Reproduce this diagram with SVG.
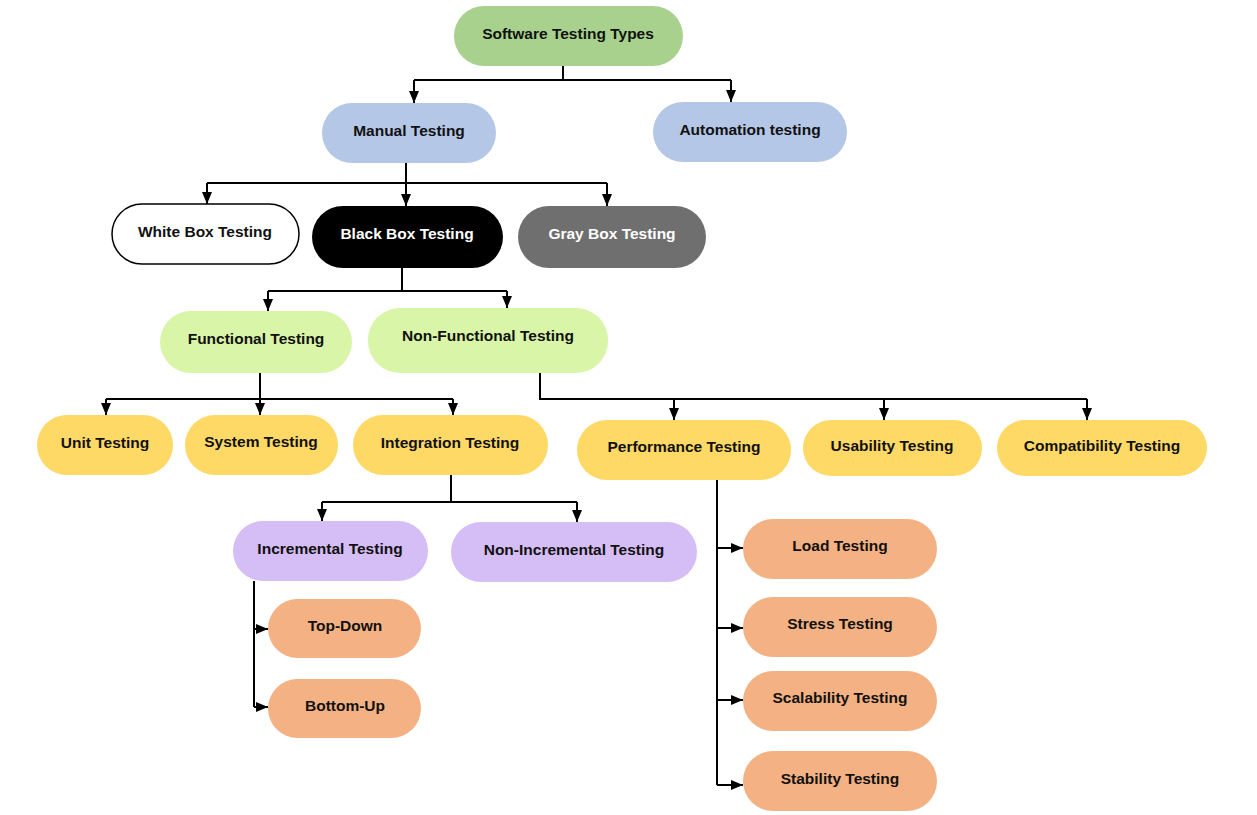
<svg xmlns="http://www.w3.org/2000/svg" width="1257" height="815" viewBox="0 0 1257 815">
<defs>
<marker id="ah" viewBox="0 0 12 10" refX="12" refY="5" markerWidth="12" markerHeight="10" markerUnits="userSpaceOnUse" orient="auto">
<path d="M0,0 L12,5 L0,10 Z" fill="#000"/>
</marker>
<style>
text{font-family:"Liberation Sans",Arial,sans-serif;font-weight:bold;font-size:15.5px;text-anchor:middle;fill:#111}
.c{fill:none;stroke:#000;stroke-width:2}
.a{fill:none;stroke:#000;stroke-width:2;marker-end:url(#ah)}
.g1{fill:#a9d18e}
.bl{fill:#b4c7e7}
.lg{fill:#d9f5a7}
.ye{fill:#fed966}
.pu{fill:#d5bdf5}
.or{fill:#f4b183}
</style>
</defs>
<rect width="1257" height="815" fill="#fff"/>
<g id="connectors">
<path class="c" d="M563,66 V80 M414,80 H731"/>
<path class="a" d="M414,80 V103"/>
<path class="a" d="M731,80 V102"/>
<path class="c" d="M406,163 V183 M207,183 H607"/>
<path class="a" d="M207,183 V204"/>
<path class="a" d="M406,183 V206"/>
<path class="a" d="M607,183 V206"/>
<path class="c" d="M402,268 V291 M268,291 H507"/>
<path class="a" d="M268,291 V311"/>
<path class="a" d="M507,291 V308"/>
<path class="c" d="M260,373 V399 M106,399 H453"/>
<path class="a" d="M106,399 V415"/>
<path class="a" d="M260,399 V415"/>
<path class="a" d="M453,399 V415"/>
<path class="c" d="M540,373 V399 H1087"/>
<path class="a" d="M674,399 V420"/>
<path class="a" d="M884,399 V420"/>
<path class="a" d="M1087,399 V420"/>
<path class="c" d="M451,475 V502 M322,502 H577"/>
<path class="a" d="M322,502 V521"/>
<path class="a" d="M577,502 V522"/>
<path class="c" d="M254,581 V707"/>
<path class="a" d="M254,629 H268"/>
<path class="a" d="M254,707 H268"/>
<path class="c" d="M717,480 V785"/>
<path class="a" d="M717,548 H743"/>
<path class="a" d="M717,628 H743"/>
<path class="a" d="M717,700 H743"/>
<path class="a" d="M717,785 H743"/>
</g>
<g id="n-root"><rect class="g1" x="454" y="6" width="229" height="60" rx="30"/><text x="568" y="39">Software Testing Types</text></g>
<g id="n-manual"><rect class="bl" x="322" y="103" width="174" height="60" rx="30"/><text x="409" y="136">Manual Testing</text></g>
<g id="n-automation"><rect class="bl" x="653" y="102" width="194" height="60" rx="30"/><text x="750" y="135">Automation testing</text></g>
<g id="n-white"><rect x="112" y="204" width="187" height="60" rx="30" fill="#fff" stroke="#000" stroke-width="1.5"/><text x="205" y="237">White Box Testing</text></g>
<g id="n-black"><rect x="312" y="206" width="191" height="62" rx="31" fill="#000"/><text x="407" y="239" style="fill:#fff">Black Box Testing</text></g>
<g id="n-gray"><rect x="518" y="206" width="188" height="62" rx="31" fill="#6f6f6f"/><text x="612" y="239" style="fill:#fff">Gray Box Testing</text></g>
<g id="n-functional"><rect class="lg" x="160" y="311" width="192" height="62" rx="31"/><text x="256" y="344">Functional Testing</text></g>
<g id="n-nonfunctional"><rect class="lg" x="368" y="308" width="240" height="65" rx="32"/><text x="488" y="341">Non-Functional Testing</text></g>
<g id="n-unit"><rect class="ye" x="37" y="415" width="136" height="60" rx="30"/><text x="105" y="448">Unit Testing</text></g>
<g id="n-system"><rect class="ye" x="185" y="415" width="153" height="60" rx="30"/><text x="261" y="447">System Testing</text></g>
<g id="n-integration"><rect class="ye" x="353" y="415" width="195" height="60" rx="30"/><text x="450" y="448">Integration Testing</text></g>
<g id="n-performance"><rect class="ye" x="577" y="420" width="214" height="60" rx="30"/><text x="684" y="452">Performance Testing</text></g>
<g id="n-usability"><rect class="ye" x="803" y="420" width="179" height="56" rx="28"/><text x="892" y="451">Usability Testing</text></g>
<g id="n-compatibility"><rect class="ye" x="997" y="420" width="210" height="56" rx="28"/><text x="1102" y="451">Compatibility Testing</text></g>
<g id="n-incremental"><rect class="pu" x="233" y="521" width="195" height="60" rx="30"/><text x="330" y="554">Incremental Testing</text></g>
<g id="n-nonincremental"><rect class="pu" x="451" y="522" width="246" height="60" rx="30"/><text x="574" y="555">Non-Incremental Testing</text></g>
<g id="n-topdown"><rect class="or" x="268" y="599" width="153" height="59" rx="29.5"/><text x="345" y="631">Top-Down</text></g>
<g id="n-bottomup"><rect class="or" x="268" y="679" width="153" height="59" rx="29.5"/><text x="345" y="711">Bottom-Up</text></g>
<g id="n-load"><rect class="or" x="743" y="519" width="194" height="60" rx="30"/><text x="840" y="551">Load Testing</text></g>
<g id="n-stress"><rect class="or" x="743" y="597" width="194" height="60" rx="30"/><text x="840" y="629">Stress Testing</text></g>
<g id="n-scalability"><rect class="or" x="743" y="671" width="194" height="60" rx="30"/><text x="840" y="703">Scalability Testing</text></g>
<g id="n-stability"><rect class="or" x="743" y="751" width="194" height="60" rx="30"/><text x="840" y="784">Stability Testing</text></g>
</svg>
